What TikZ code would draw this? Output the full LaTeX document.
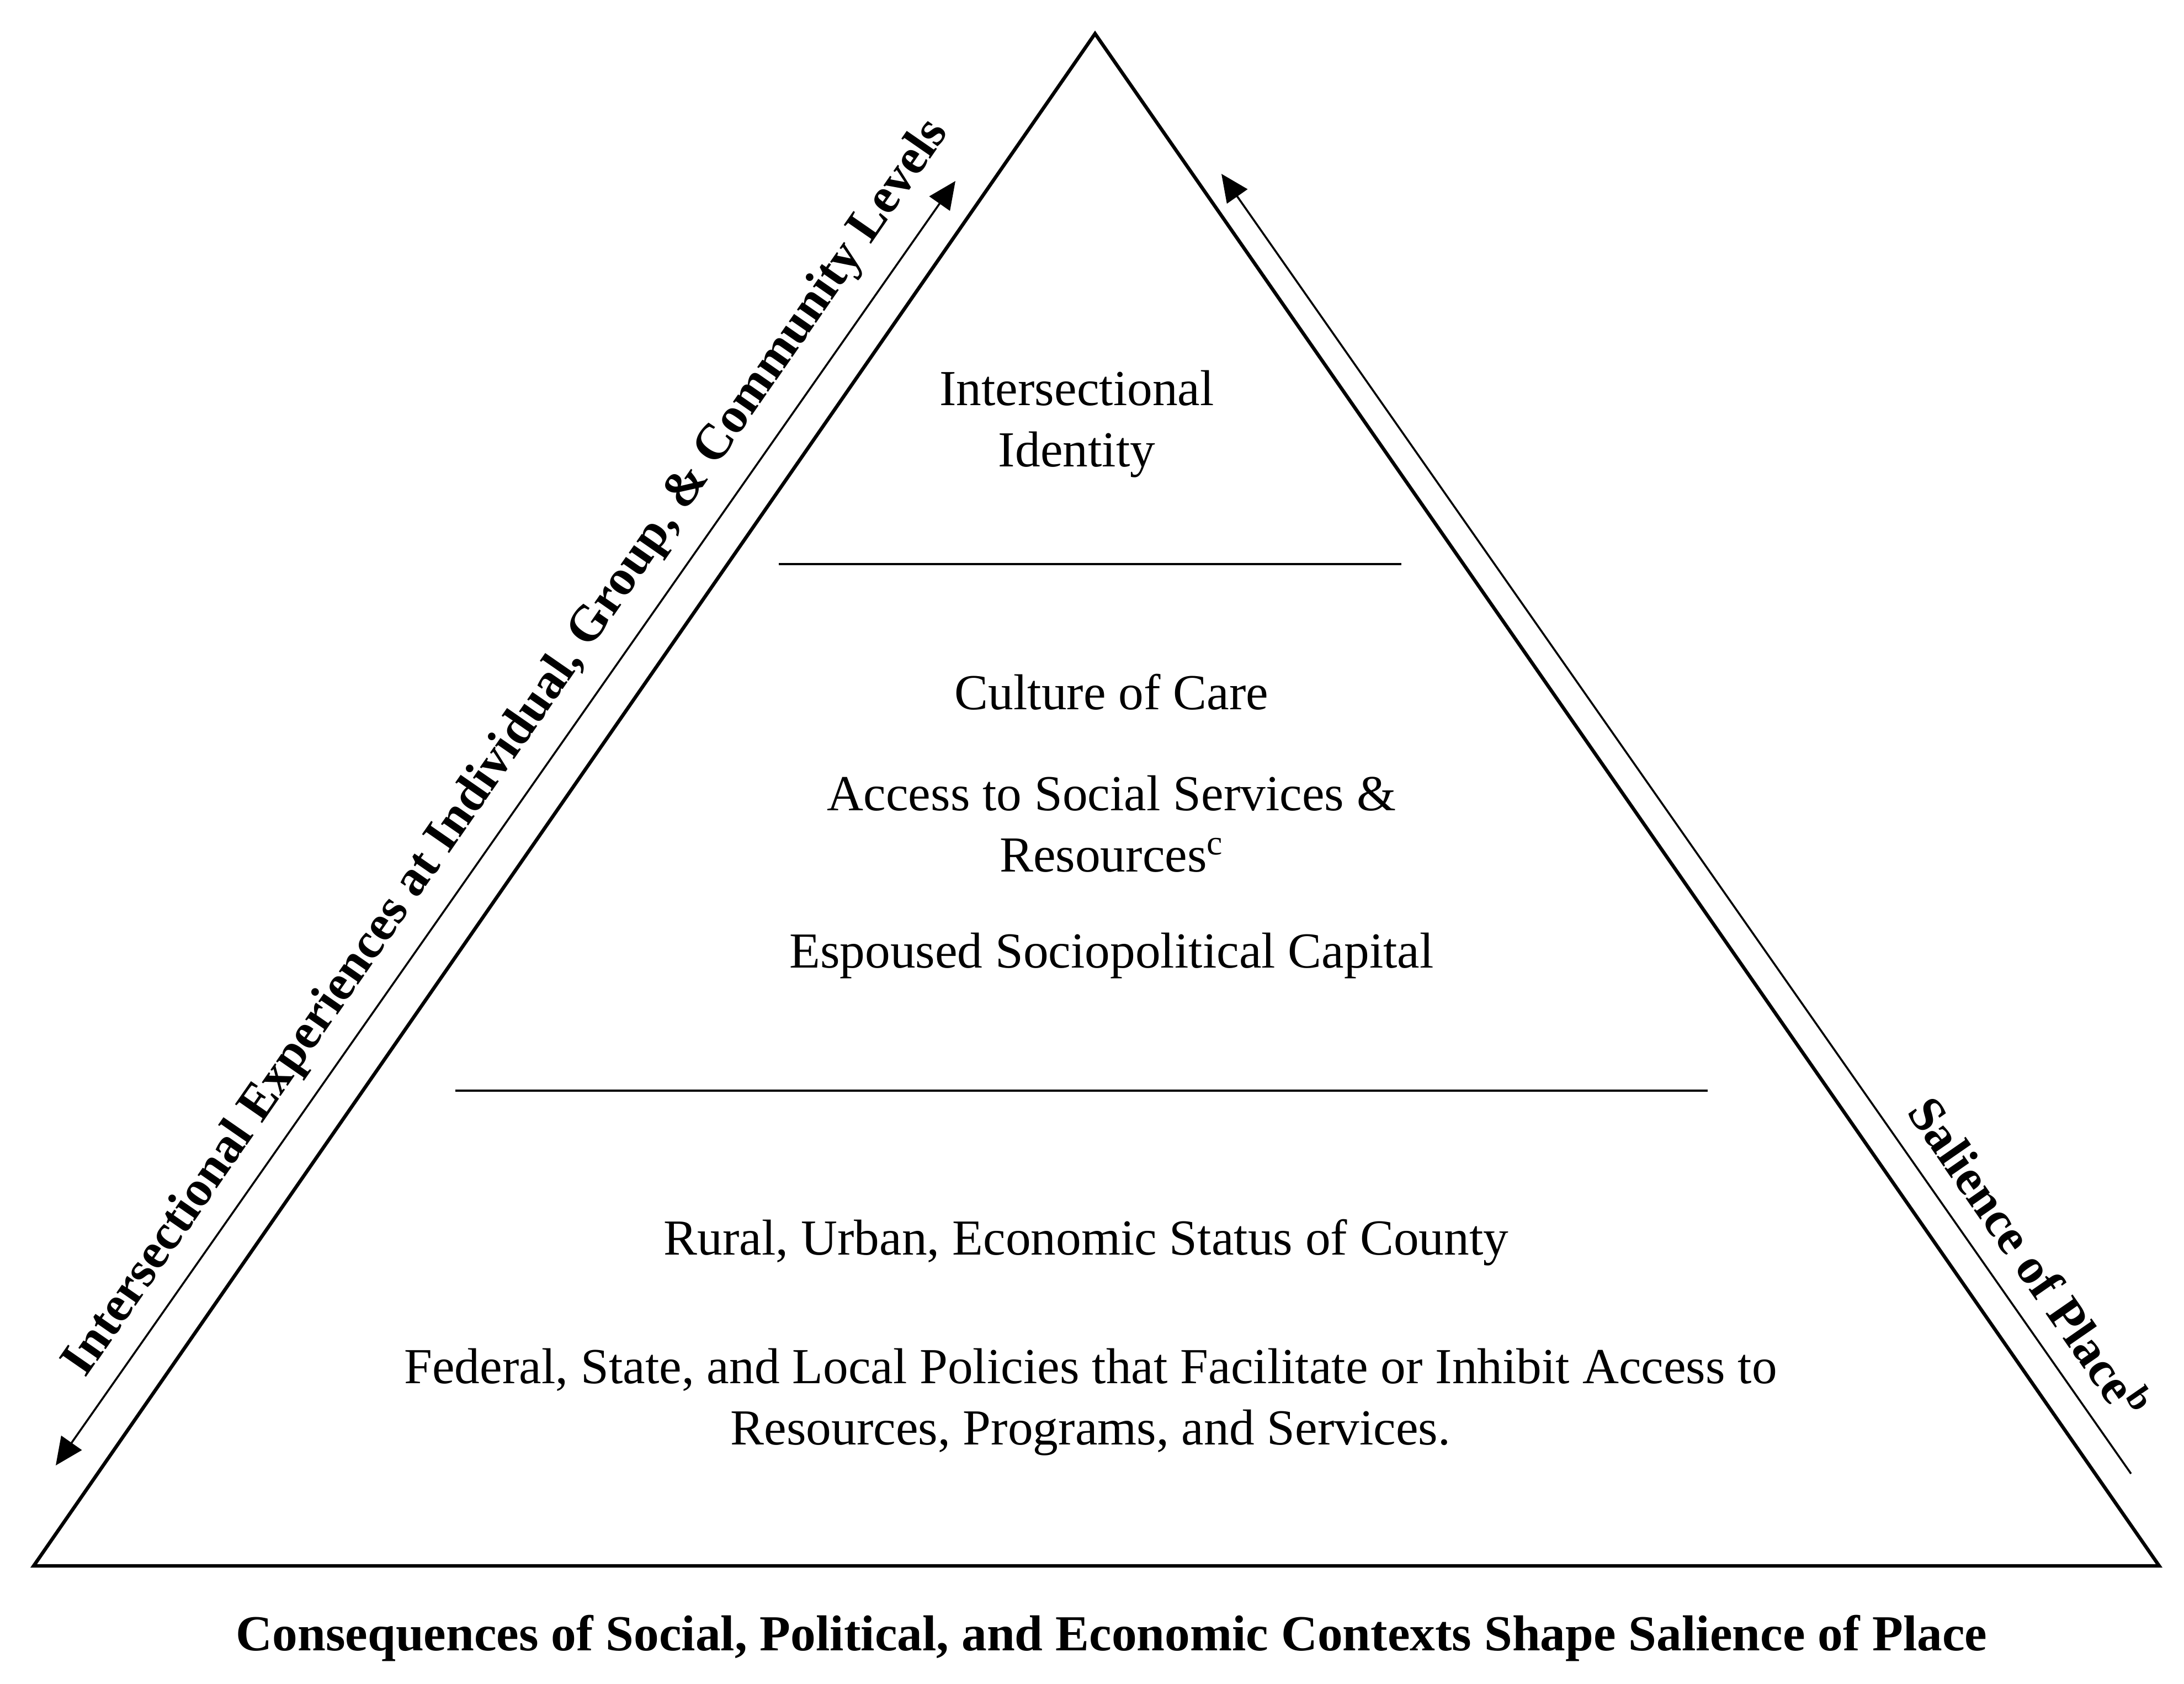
\documentclass[tikz,border=0pt]{standalone}
\usepackage{fontspec}
\setmainfont{Liberation Serif}
\usetikzlibrary{arrows.meta}
\begin{document}
\begin{tikzpicture}[
  body/.style={font=\fontsize{26}{31.6}\selectfont, align=center, inner sep=0pt},
  lbl/.style={font=\fontsize{26}{31.6}\selectfont\bfseries, inner sep=0pt},
  tri/.style={line width=1.8pt, line join=miter},
  sepline/.style={line width=1.2pt},
  arr/.style={line width=1pt, -{Triangle[length=0.5cm,width=0.45cm]}},
  darr/.style={line width=1pt, {Triangle[length=0.5cm,width=0.45cm]}-{Triangle[length=0.5cm,width=0.45cm]}},
]
\useasboundingbox (0,0) rectangle (39.57,30.51);
% triangle
\coordinate (top) at (19.84,29.90);
\coordinate (bl) at (0.61,2.14);
\coordinate (br) at (39.12,2.14);
\draw[tri] (top) -- (bl) -- (br) -- cycle;
% separators
\coordinate (s1a) at (14.11,20.29);
\coordinate (s1b) at (25.39,20.29);
\coordinate (s2a) at (8.25,10.75);
\coordinate (s2b) at (30.94,10.75);
\draw[sepline] (s1a) -- (s1b);
\draw[sepline] (s2a) -- (s2b);
% side arrows
\coordinate (la) at (1.01,3.96);
\coordinate (lb) at (17.31,27.23);
\draw[darr] (la) -- (lb);
\coordinate (ra) at (38.61,3.81);
\coordinate (rb) at (22.13,27.36);
\draw[arr] (ra) -- (rb);
% texts
\node[body] (ident) at (19.51,22.83) {Intersectional\\Identity};
\node[body] (care) at (20.14,17.97) {Culture of Care};
\node[body] (access) at (20.14,15.58) {Access to Social Services \&\\Resources\textsuperscript{c}};
\node[body] (capital) at (20.14,13.19) {Espoused Sociopolitical Capital};
\node[body] (rural) at (19.68,8.00) {Rural, Urban, Economic Status of County};
\node[body] (policy) at (19.76,5.11) {Federal, State, and Local Policies that Facilitate or Inhibit Access to\\Resources, Programs, and Services.};
\node[lbl] (bottom) at (20.14,0.83) {Consequences of Social, Political, and Economic Contexts Shape Salience of Place};
\node[lbl, rotate=55.3] (left) at (9.19,16.95) {Intersectional Experiences at Individual, Group, \& Community Levels};
\node[lbl, rotate=-55.3] (right) at (36.80,7.75) {Salience of Place\textsuperscript{b}};
\end{tikzpicture}
\end{document}
